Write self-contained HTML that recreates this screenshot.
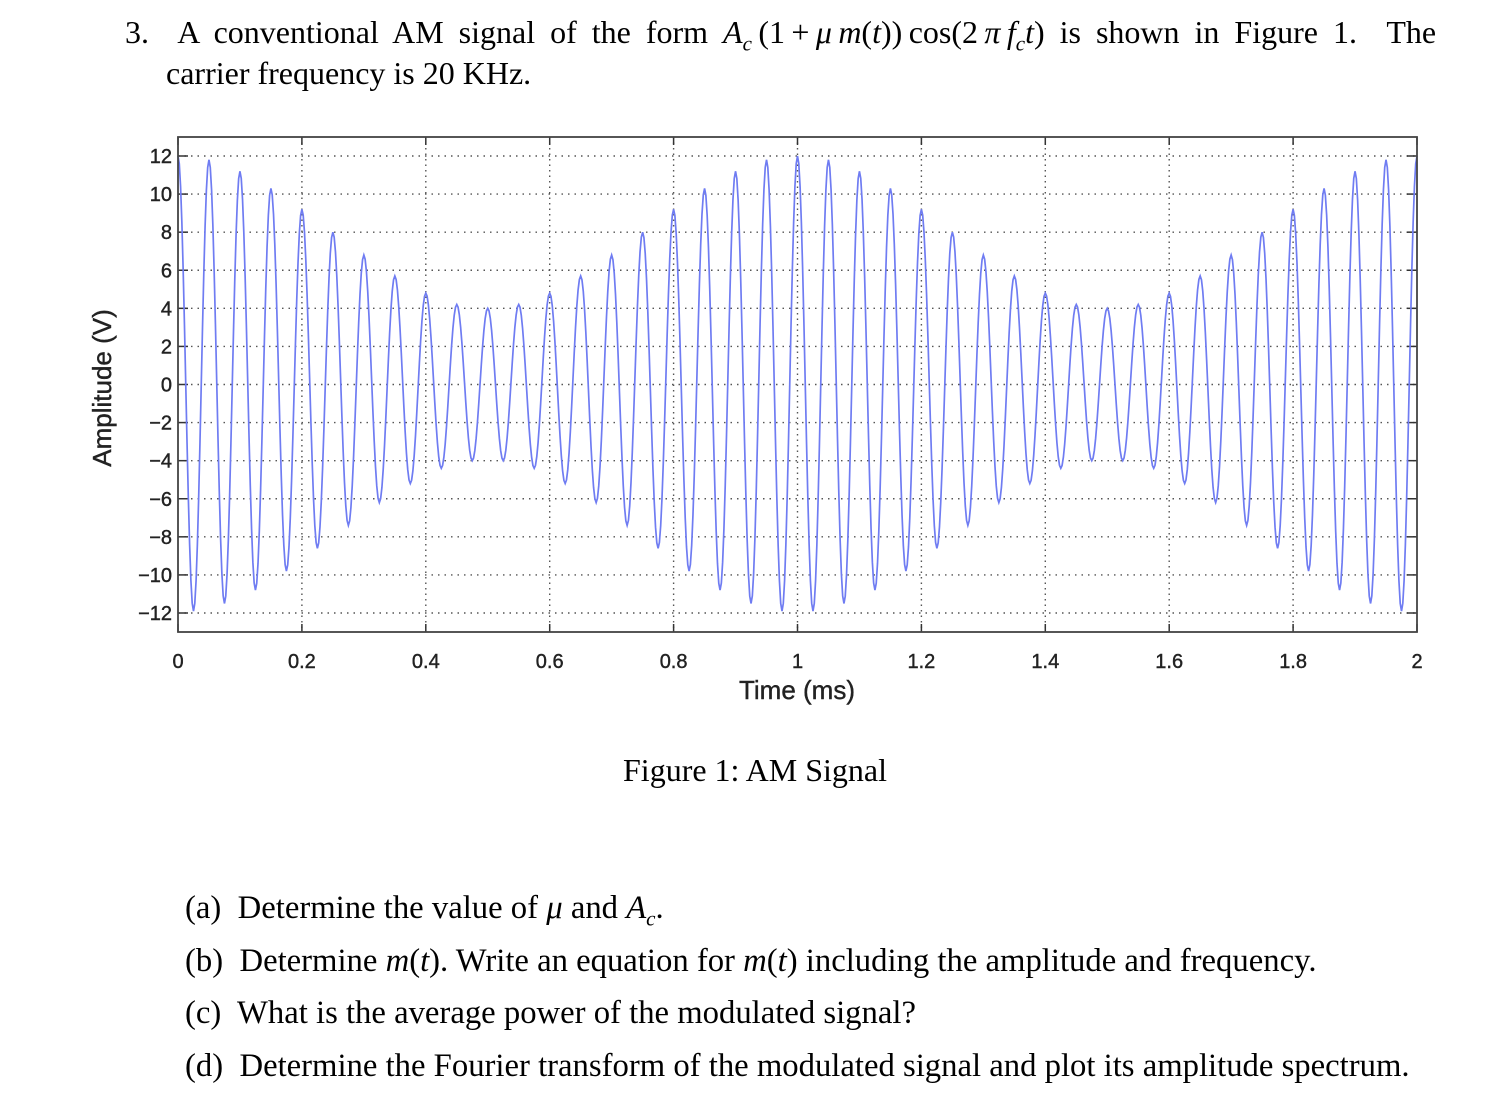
<!DOCTYPE html>
<html><head><meta charset="utf-8">
<style>
body{margin:0;width:1506px;height:1112px;background:#fff;position:relative;overflow:hidden;font-family:"Liberation Serif",serif;color:#000}
.t{position:absolute;font-size:32px;white-space:nowrap}
.q{font-size:32.7px}
i{font-style:italic}
</style></head><body>
<div class="t" style="left:125px;top:14px;word-spacing:7px">3.&nbsp; A conventional AM signal of the form <i>A<sub style="font-size:21px">c</sub></i>&thinsp;(1&thinsp;+&thinsp;<i>μ&thinsp;m</i>(<i>t</i>))&thinsp;cos(2&thinsp;<i>π&thinsp;f<sub style="font-size:21px">c</sub>t</i>) is shown in Figure 1.&nbsp; The</div>
<div class="t" style="left:166px;top:55px">carrier frequency is 20 KHz.</div>
<svg id="chart" width="1506" height="740" style="position:absolute;left:0;top:0" font-family="Liberation Sans, sans-serif"></svg>
<div class="t" style="left:623px;top:752px">Figure 1: AM Signal</div>
<div class="t q" style="left:185px;top:890px">(a)&nbsp; Determine the value of <i>μ</i> and <i>A<sub style="font-size:21px">c</sub></i>.</div>
<div class="t q" style="left:185px;top:943px">(b)&nbsp; Determine <i>m</i>(<i>t</i>). Write an equation for <i>m</i>(<i>t</i>) including the amplitude and frequency.</div>
<div class="t q" style="left:185px;top:995px">(c)&nbsp; What is the average power of the modulated signal?</div>
<div class="t q" style="left:185px;top:1048px">(d)&nbsp; Determine the Fourier transform of the modulated signal and plot its amplitude spectrum.</div>
<script>
// positive peaks at t = 0, 0.05, ..., 2.0 ms (41 values)
const peakValues = [12,11.8,11.2,10.3,9.2,8,6.8,5.7,4.8,4.2,4.0,4.2,4.8,5.7,6.8,8,9.2,10.3,11.2,11.8,12,11.8,11.2,10.3,9.2,8,6.8,5.7,4.8,4.2,4.0,4.2,4.8,5.7,6.8,8,9.2,10.3,11.2,11.8,12];
// negative troughs at t = 0.025, 0.075, ... (40 values)
const troughValues = [-11.9,-11.5,-10.8,-9.8,-8.6,-7.4,-6.2,-5.2,-4.4,-4.0,-4.0,-4.4,-5.2,-6.2,-7.4,-8.6,-9.8,-10.8,-11.5,-11.9,-11.9,-11.5,-10.8,-9.8,-8.6,-7.4,-6.2,-5.2,-4.4,-4.0,-4.0,-4.4,-5.2,-6.2,-7.4,-8.6,-9.8,-10.8,-11.5,-11.9];
const xTicks = [0,0.2,0.4,0.6,0.8,1,1.2,1.4,1.6,1.8,2];
const xTickLabels = ["0","0.2","0.4","0.6","0.8","1","1.2","1.4","1.6","1.8","2"];
const yTicks = [12,10,8,6,4,2,0,-2,-4,-6,-8,-10,-12];
const yTickLabels = ["12","10","8","6","4","2","0","\u22122","\u22124","\u22126","\u22128","\u221210","\u221212"];
const period = 0.05;

const svg = document.getElementById('chart');
const NS = 'http://www.w3.org/2000/svg';
const L=178,R=1417,T=137,B=632;
const X = t => L + t/2*(R-L);
const Y = v => 156 + (12-v)/24*(613-156);
function mk(tag, attrs){const e=document.createElementNS(NS,tag);for(const k in attrs)e.setAttribute(k,attrs[k]);svg.appendChild(e);return e;}

xTicks.forEach((t,i)=>{
  if(i>0&&i<xTicks.length-1){const g=mk('line',{x1:X(t),x2:X(t),y1:T,y2:B,stroke:'#555','stroke-width':1.4,'stroke-dasharray':'1.5 4'});
  
  }
  const tk=mk('line',{x1:X(t),x2:X(t),y1:B,y2:B-8,stroke:'#333','stroke-width':1.5});
  
  
  const tk2=mk('line',{x1:X(t),x2:X(t),y1:T,y2:T+8,stroke:'#333','stroke-width':1.5});
  
  
  const lb=mk('text',{x:X(t),y:668,'text-anchor':'middle','font-size':20,fill:'#222','stroke':'#222','stroke-width':0.4});
  lb.textContent=xTickLabels[i];
  
  
});
yTicks.forEach((v,i)=>{
  const g=mk('line',{x1:L,x2:R,y1:Y(v),y2:Y(v),stroke:'#555','stroke-width':1.4,'stroke-dasharray':'1.5 5'});
  
  
  const tk=mk('line',{x1:L,x2:L+10,y1:Y(v),y2:Y(v),stroke:'#333','stroke-width':1.5});
  
  
  const tk2=mk('line',{x1:R-10,x2:R,y1:Y(v),y2:Y(v),stroke:'#333','stroke-width':1.5});
  
  
  const lb=mk('text',{x:172,y:Y(v)+7,'text-anchor':'end','font-size':20,fill:'#222','stroke':'#222','stroke-width':0.4});
  lb.textContent=yTickLabels[i];
  
  
});
const ext=[];
for(let k=0;k<peakValues.length;k++){ext.push([k*period,peakValues[k]]);if(k<troughValues.length)ext.push([k*period+period/2,troughValues[k]]);}
let d='';
for(let j=0;j<ext.length-1;j++){
  const [t0,v0]=ext[j],[t1,v1]=ext[j+1];
  for(let s=0;s<=12;s++){
    const f=s/12, w=(1-Math.cos(Math.PI*f))/2;
    const t=t0+(t1-t0)*f, v=v0+(v1-v0)*w;
    d+=(d?'L':'M')+X(t).toFixed(2)+' '+Y(v).toFixed(2);
  }
}
const p=mk('path',{d:d,fill:'none',stroke:'#6f7cf2','stroke-width':1.7});


const fr=mk('rect',{x:L,y:T,width:R-L,height:B-T,fill:'none',stroke:'#444','stroke-width':1.8});


const xt=mk('text',{x:797,y:699,'text-anchor':'middle','font-size':26,fill:'#222','stroke':'#222','stroke-width':0.4});
xt.textContent='Time (ms)';


const yt=mk('text',{x:0,y:0,'text-anchor':'middle','font-size':26,fill:'#222','stroke':'#222','stroke-width':0.4,transform:'translate(111,388) rotate(-90)'});
yt.textContent='Amplitude (V)';


</script>
</body></html>
